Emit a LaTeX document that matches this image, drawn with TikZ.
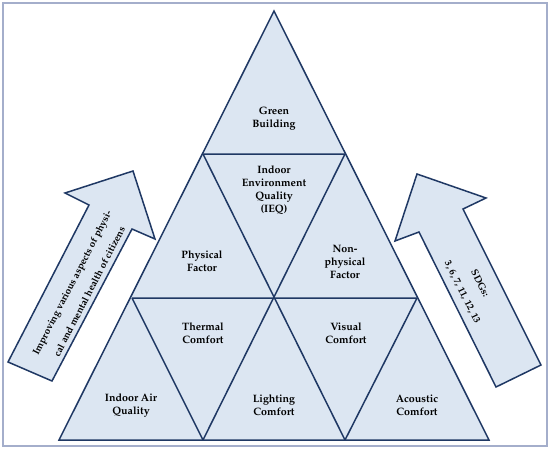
\documentclass[tikz,border=0pt]{standalone}
\usepackage[T1]{fontenc}
\usepackage{mathpazo}
\usepackage{xcolor}
\definecolor{myblue}{RGB}{31,56,100}
\definecolor{mylight}{RGB}{220,230,242}
\definecolor{myframe}{RGB}{164,174,203}

\begin{document}
\begin{tikzpicture}[x=1pt,y=-1pt,line join=miter]
  \tikzstyle{tri}=[fill=mylight,draw=myblue,line width=1.5pt]
  \tikzstyle{txt}=[align=center,font=\fontsize{10.7}{13}\selectfont\bfseries,text=black]
  \tikzstyle{arrtxt}=[align=center,font=\fontsize{9.8}{19.5}\selectfont\bfseries,text=black]

  \useasboundingbox (0,0) rectangle (550,451);
  \draw[myframe,line width=1.8pt] (3,3) rectangle (547,446);

  % corners of the pyramid
  \coordinate (A)  at (274,11);
  \coordinate (B1) at (203,154);
  \coordinate (B2) at (345,154);
  \coordinate (C1) at (132,298);
  \coordinate (C2) at (274,298);
  \coordinate (C3) at (417,298);
  \coordinate (D1) at (59,440);
  \coordinate (D2) at (203,440);
  \coordinate (D3) at (345,440);
  \coordinate (D4) at (489,440);

  \draw[tri] (A) -- (D4) -- (D1) -- cycle;
  \draw[tri] (B1) -- (B2) (C1) -- (C3)
             (B1) -- (D3) (B2) -- (D2)
             (C1) -- (D2) (C3) -- (D3);

  % side arrows
  \draw[tri] (133,171) -- (155,239) -- (132,229) -- (52,381)
             -- (8,362) -- (89,205) -- (65,193) -- cycle;
  \draw[tri] (417,174) -- (486,198) -- (463,209) -- (541,365)
             -- (496,387) -- (419,232) -- (395,241) -- cycle;

  \node[txt] (green)    at (274,119) {Green\\Building};
  \node[txt] (ieq)      at (274,190) {Indoor\\Environment\\Quality\\(IEQ)};
  \node[txt] (phys)     at (202,261) {Physical\\Factor};
  \node[txt] (nonphys)  at (345,262) {Non-\\physical\\Factor};
  \node[txt] (thermal)  at (203,333) {Thermal\\Comfort};
  \node[txt] (visual)   at (346,333) {Visual\\Comfort};
  \node[txt] (iaq)      at (131,405) {Indoor Air\\Quality};
  \node[txt] (lighting) at (274,405) {Lighting\\Comfort};
  \node[txt] (acoustic) at (417,405) {Acoustic\\Comfort};

  \node[arrtxt,rotate=62.7]  (health) at (80.5,287) {Improving various aspects of physi-\\cal and mental health of citizens};
  \node[arrtxt,rotate=-63.4] (sdgs)   at (471,288) {SDGs:\\3, 6, 7, 11, 12, 13};
\end{tikzpicture}
\end{document}
